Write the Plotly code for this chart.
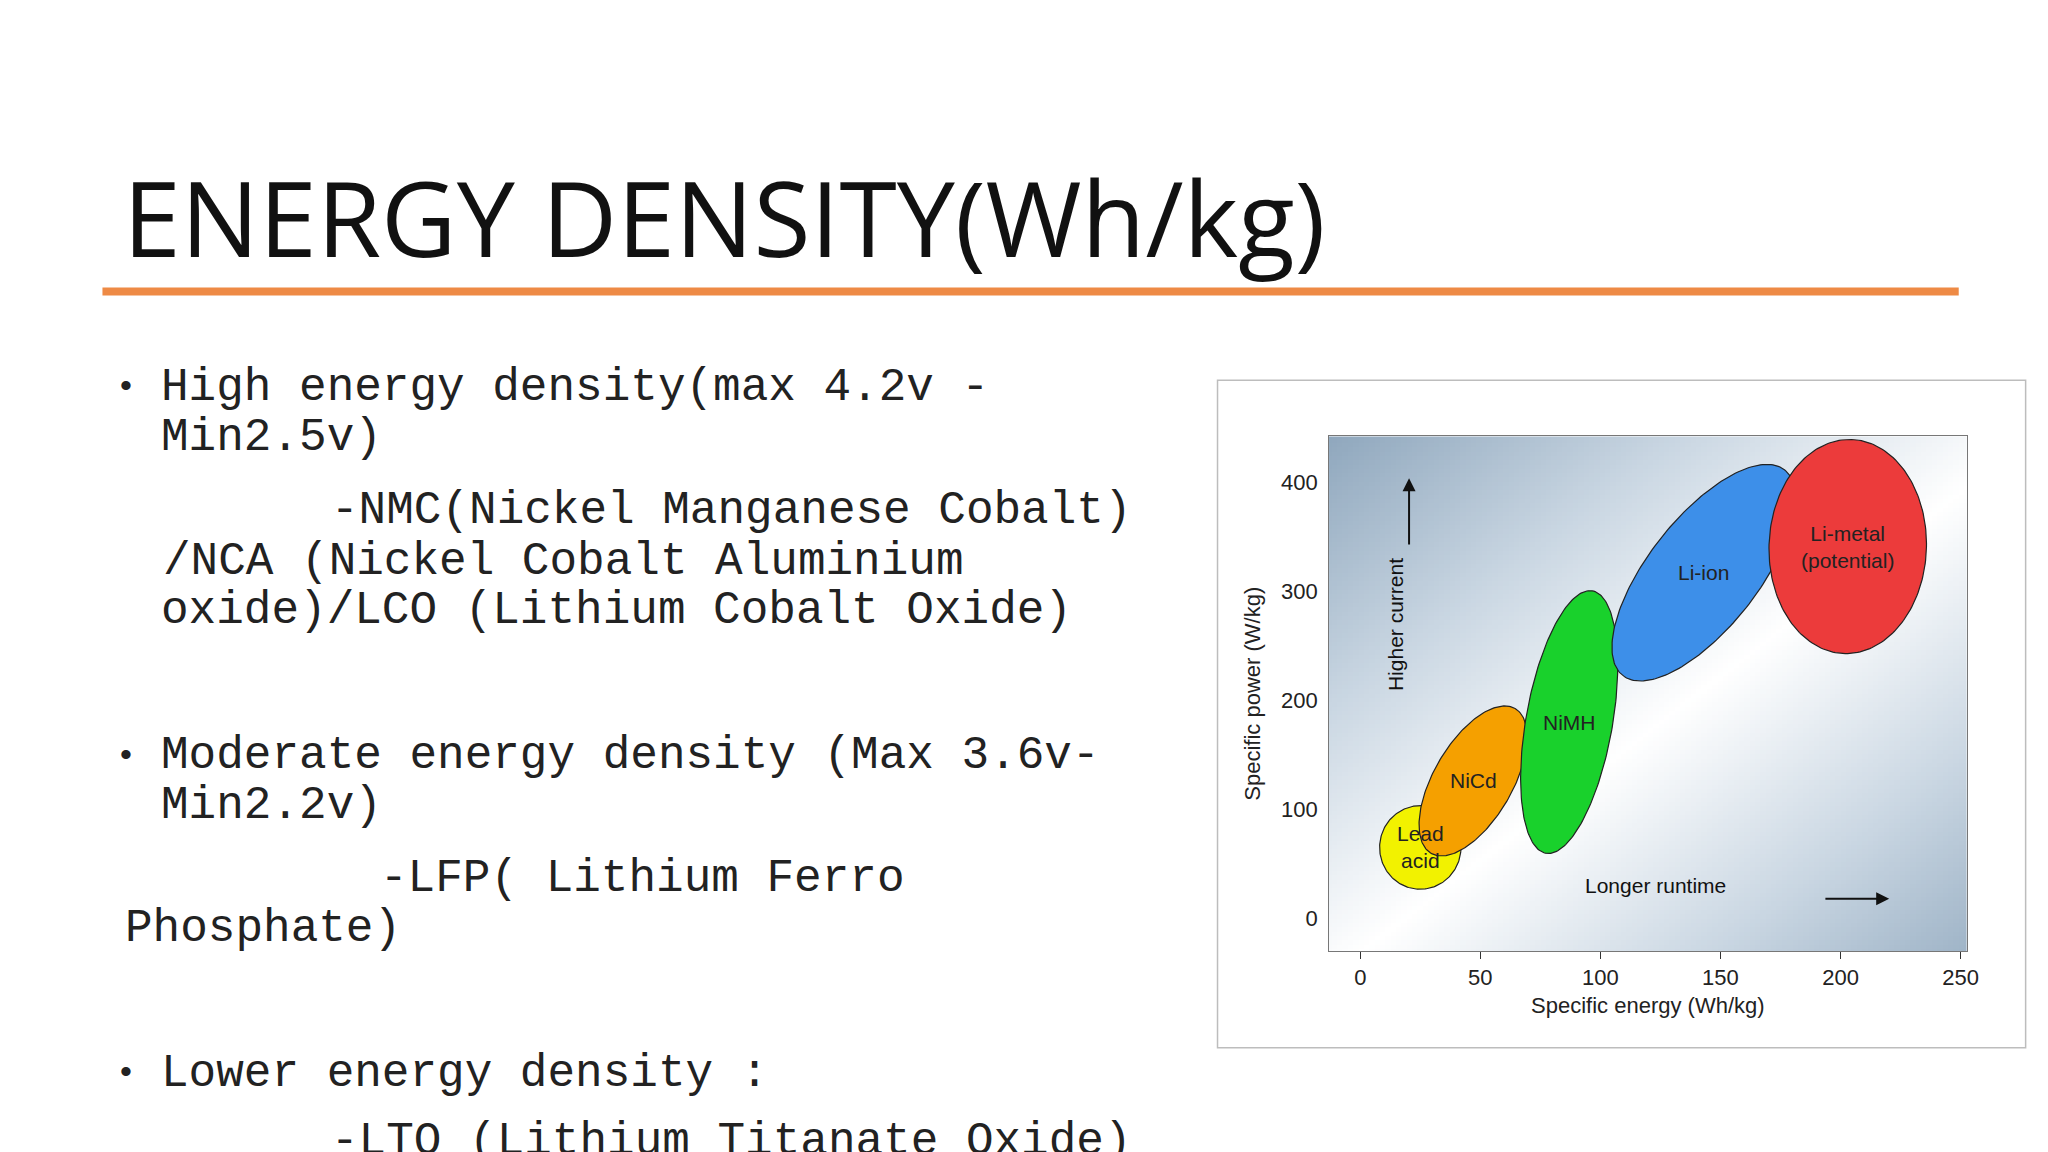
import numpy as np
import plotly.graph_objects as go

W, H = 2048, 1152
RW, RH = 1552, 882  # reference layout units

# chart data
names = ["Lead<br>acid", "NiCd", "NiMH", "Li-ion", "Li-metal<br>(potential)"]
energy = [25, 47, 87, 143, 203]          # Wh/kg, ellipse centre
power = [65, 126, 180, 317, 341]         # W/kg, ellipse centre
semi_major = [31, 64, 102, 100, 82]      # ellipse size (ref px)
semi_minor = [32, 30, 33, 42, 60]
tilt = [0, 60, 80, 52, 88]
fills = ["#f2f200", "#f5a000", "#19d12c", "#3d8fe9", "#ec3b3b"]

x_ticks = [0, 50, 100, 150, 200, 250]
y_ticks = [0, 100, 200, 300, 400]
x_range = [-13, 252.5]
y_range = [-30, 442]

# px per data unit in reference layout
sx = (1493 - 1007) / (x_range[1] - x_range[0])
sy = (722 - 328) / (y_range[1] - y_range[0])
k = H / RH


def px(x):
    return x / RW


def py(y):
    return 1 - y / RH


fig = go.Figure()

# background glow
gx = np.linspace(x_range[0], x_range[1], 120)
gy = np.linspace(y_range[0], y_range[1], 120)
u = (gx - x_range[0]) / (x_range[1] - x_range[0])
v = (gy - y_range[0]) / (y_range[1] - y_range[0])
U, V = np.meshgrid(u, v)
Z = np.abs(V - (U * 0.95 - 0.05))
fig.add_trace(go.Heatmap(x=gx, y=gy, z=Z, showscale=False, hoverinfo="skip",
                         colorscale=[[0, "#ffffff"], [0.5, "#c9d6e2"], [1, "#8fa7bd"]]))

t = np.linspace(0, 2 * np.pi, 200)
for n, cx, cy, a, b, ang, c in zip(names, energy, power, semi_major, semi_minor, tilt, fills):
    th = np.radians(ang)
    dx = a * np.cos(t) * np.cos(th) - b * np.sin(t) * np.sin(th)
    dy = a * np.cos(t) * np.sin(th) + b * np.sin(t) * np.cos(th)
    fig.add_trace(go.Scatter(x=cx + dx / sx, y=cy + dy / sy, mode="lines", fill="toself",
                             fillcolor=c, line=dict(color="#222", width=1.2),
                             hoverinfo="skip", showlegend=False))
    fig.add_annotation(x=cx, y=cy, text=n, showarrow=False, xref="x", yref="y",
                       font=dict(family="Liberation Sans", size=21, color="#222"))

fig.update_xaxes(domain=[px(1007), px(1493)], range=x_range, tickvals=x_ticks,
                 ticks="outside", ticklen=7, tickcolor="#333", showgrid=False, zeroline=False,
                 showline=True, linecolor="#777", mirror=True,
                 tickfont=dict(family="Liberation Sans", size=22, color="#222"),
                 title=dict(text="Specific energy (Wh/kg)", standoff=8,
                            font=dict(family="Liberation Sans", size=22, color="#222")))
fig.update_yaxes(domain=[py(722), py(328)], range=y_range, tickvals=y_ticks,
                 ticks="", showgrid=False, zeroline=False,
                 showline=True, linecolor="#777", mirror=True, ticklabelstandoff=6,
                 tickfont=dict(family="Liberation Sans", size=22, color="#222"),
                 title=dict(text="Specific power (W/kg)", standoff=14,
                            font=dict(family="Liberation Sans", size=22, color="#222")))

# inner arrows
fig.add_annotation(x=px(1068), y=py(360), ax=0, ay=52 * k, xref="paper", yref="paper",
                   showarrow=True, arrowhead=2, arrowsize=1.3,
                   arrowwidth=2, arrowcolor="#111", text="")
fig.add_annotation(x=px(1068), y=py(472), text="Higher current", textangle=-90, showarrow=False,
                   xref="paper", yref="paper", font=dict(family="Liberation Sans", size=21, color="#111"))
fig.add_annotation(x=px(1311), y=py(682), text="Longer runtime", showarrow=False,
                   xref="paper", yref="paper", font=dict(family="Liberation Sans", size=21, color="#111"))
fig.add_annotation(x=px(1434), y=py(682), ax=-50 * k, ay=0, xref="paper", yref="paper",
                   showarrow=True, arrowhead=2, arrowsize=1.3,
                   arrowwidth=2, arrowcolor="#111", text="")

# chart frame and title rule
fig.add_shape(type="rect", xref="paper", yref="paper", x0=px(922), x1=px(1538),
              y0=py(796), y1=py(285), line=dict(color="#bdbdbd", width=1.5))
fig.add_shape(type="line", xref="paper", yref="paper", x0=px(72), x1=px(1487),
              y0=py(217), y1=py(217), line=dict(color="#ee8a45", width=8))

fig.add_annotation(x=px(86), y=py(160), text="ENERGY DENSITY(Wh/kg)", showarrow=False,
                   xref="paper", yref="paper", xanchor="left", yanchor="middle",
                   font=dict(family="Open Sans", size=104, color="#111"))

body = [
    (115, 291, "High energy density(max 4.2v -"),
    (115, 329, "Min2.5v)"),
    (245, 385, "-NMC(Nickel Manganese Cobalt)"),
    (117, 424, "/NCA (Nickel Cobalt Aluminium"),
    (115, 462, "oxide)/LCO (Lithium Cobalt Oxide)"),
    (115, 573, "Moderate energy density (Max 3.6v-"),
    (115, 611, "Min2.2v)"),
    (282, 667, "-LFP( Lithium Ferro"),
    (88, 705, "Phosphate)"),
    (115, 816, "Lower energy density :"),
    (245, 868, "-LTO (Lithium Titanate Oxide)"),
]
for x, y, s in body:
    fig.add_annotation(x=px(x), y=py(y), text=s, showarrow=False, xref="paper", yref="paper",
                       xanchor="left", yanchor="middle",
                       font=dict(family="Liberation Mono", size=46, color="#222"))
for y in [291, 573, 816]:
    fig.add_annotation(x=px(84), y=py(y - 2), text="•", showarrow=False, xref="paper", yref="paper",
                       xanchor="left", yanchor="middle",
                       font=dict(family="Liberation Sans", size=34, color="#222"))

fig.update_layout(width=W, height=H, margin=dict(l=0, r=0, t=0, b=0),
                  paper_bgcolor="white", plot_bgcolor="white", showlegend=False)

fig.write_html("out.html")
